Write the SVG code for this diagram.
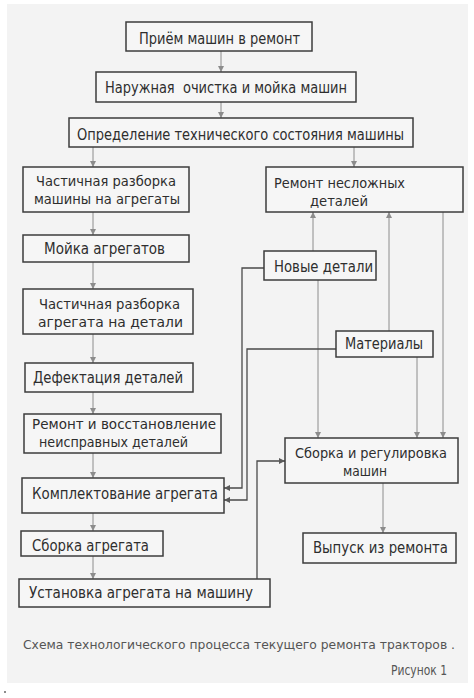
<svg xmlns="http://www.w3.org/2000/svg" width="474" height="698" viewBox="0 0 474 698">
<style>
.box{fill:#f6f6f6;stroke:#3c3c3c;stroke-width:1.5}
.t{font-family:"DejaVu Sans Condensed","Liberation Sans",sans-serif;font-size:16px;fill:#2e2e2e}
.t2{font-family:"DejaVu Sans Condensed","Liberation Sans",sans-serif;font-size:14px;fill:#2e2e2e}
.c{fill:none;stroke:#8c8c8c;stroke-width:1}
.d{fill:none;stroke:#4a4a4a;stroke-width:1.3}
.cap{font-family:"DejaVu Sans Condensed","Liberation Sans",sans-serif;font-size:13px;fill:#555}
</style>
<defs>
<marker id="a" viewBox="0 0 6 8" refX="6" refY="4" markerWidth="6" markerHeight="8" markerUnits="userSpaceOnUse" orient="auto">
<path d="M0,1 L6,4 L0,7 Z" fill="#8c8c8c"/>
</marker>
<marker id="ad" viewBox="0 0 6 8" refX="6" refY="4" markerWidth="6" markerHeight="8" markerUnits="userSpaceOnUse" orient="auto">
<path d="M0,1 L6,4 L0,7 Z" fill="#5a5a5a"/>
</marker>
</defs>
<rect x="0" y="0" width="474" height="698" fill="#ffffff"/>
<rect x="7" y="4" width="461" height="679" fill="#f3f3f3"/>
<circle cx="5" cy="692" r="1" fill="#666"/>

<g id="connectors">
<path class="c" d="M221,51 V72" marker-end="url(#a)"/>
<path class="c" d="M221,102 V118" marker-end="url(#a)"/>
<path class="c" d="M93,147 V167" marker-end="url(#a)"/>
<path class="c" d="M354,147 V167" marker-end="url(#a)"/>
<path class="c" d="M93,212 V235" marker-end="url(#a)"/>
<path class="c" d="M93,262 V289" marker-end="url(#a)"/>
<path class="c" d="M93,334 V363" marker-end="url(#a)"/>
<path class="c" d="M93,392 V414" marker-end="url(#a)"/>
<path class="c" d="M93,453 V478" marker-end="url(#a)"/>
<path class="c" d="M93,513 V531" marker-end="url(#a)"/>
<path class="c" d="M93,556 V579" marker-end="url(#a)"/>
<path class="c" d="M313,251 V212" marker-end="url(#a)"/>
<path class="c" d="M389,331 V212" marker-end="url(#a)"/>
<path class="c" d="M443,212 V438" marker-end="url(#a)"/>
<path class="c" d="M318,280 V438" marker-end="url(#a)"/>
<path class="c" d="M417,357 V438" marker-end="url(#a)"/>
<path class="d" d="M264,268 H242 V488 H224" marker-end="url(#ad)"/>
<path class="d" d="M336,349 H247 V500 H224" marker-end="url(#ad)"/>
<path class="d" d="M257,579 V461 H285" marker-end="url(#ad)"/>
<path class="c" d="M383,483 V533" marker-end="url(#a)"/>
</g>

<g id="n1"><rect class="box" x="126" y="22" width="186" height="29"/>
<text class="t" x="139" y="44" textLength="161" lengthAdjust="spacingAndGlyphs">Приём машин в ремонт</text></g>

<g id="n2"><rect class="box" x="96" y="72" width="260" height="30"/>
<text class="t" x="105" y="93" textLength="242" lengthAdjust="spacingAndGlyphs" xml:space="preserve">Наружная  очистка и мойка машин</text></g>

<g id="n3"><rect class="box" x="69" y="118" width="344" height="29"/>
<text class="t" x="77" y="140" textLength="327" lengthAdjust="spacingAndGlyphs">Определение технического состояния машины</text></g>

<g id="n4"><rect class="box" x="23" y="167" width="166" height="45"/>
<text class="t2" x="36" y="186" textLength="140" lengthAdjust="spacingAndGlyphs">Частичная разборка</text>
<text class="t2" x="34" y="204" textLength="146" lengthAdjust="spacingAndGlyphs">машины на агрегаты</text></g>

<g id="n5"><rect class="box" x="266" y="167" width="197" height="45"/>
<text class="t2" x="274" y="188" textLength="131" lengthAdjust="spacingAndGlyphs">Ремонт несложных</text>
<text class="t2" x="310" y="206" textLength="58" lengthAdjust="spacingAndGlyphs">деталей</text></g>

<g id="n6"><rect class="box" x="23" y="235" width="166" height="27"/>
<text class="t" x="44" y="254" textLength="121" lengthAdjust="spacingAndGlyphs">Мойка агрегатов</text></g>

<g id="n7"><rect class="box" x="264" y="251" width="112" height="29"/>
<text class="t" x="274" y="272" textLength="99" lengthAdjust="spacingAndGlyphs">Новые детали</text></g>

<g id="n8"><rect class="box" x="23" y="289" width="170" height="45"/>
<text class="t2" x="39" y="309" textLength="141" lengthAdjust="spacingAndGlyphs">Частичная разборка</text>
<text class="t2" x="38" y="327" textLength="145" lengthAdjust="spacingAndGlyphs">агрегата на детали</text></g>

<g id="n9"><rect class="box" x="336" y="331" width="97" height="26"/>
<text class="t" x="345" y="349" textLength="78" lengthAdjust="spacingAndGlyphs">Материалы</text></g>

<g id="n10"><rect class="box" x="25" y="363" width="168" height="29"/>
<text class="t" x="33" y="383" textLength="150" lengthAdjust="spacingAndGlyphs">Дефектация деталей</text></g>

<g id="n11"><rect class="box" x="24" y="414" width="197" height="39"/>
<text class="t2" x="32" y="429" textLength="184" lengthAdjust="spacingAndGlyphs">Ремонт и восстановление</text>
<text class="t2" x="39" y="447" textLength="149" lengthAdjust="spacingAndGlyphs">неисправных деталей</text></g>

<g id="n12"><rect class="box" x="285" y="438" width="173" height="45"/>
<text class="t2" x="295" y="458" textLength="152" lengthAdjust="spacingAndGlyphs">Сборка и регулировка</text>
<text class="t2" x="343" y="476" textLength="44" lengthAdjust="spacingAndGlyphs">машин</text></g>

<g id="n13"><rect class="box" x="22" y="478" width="202" height="35"/>
<text class="t" x="32" y="499" textLength="186" lengthAdjust="spacingAndGlyphs">Комплектование агрегата</text></g>

<g id="n14"><rect class="box" x="21" y="531" width="142" height="25"/>
<text class="t" x="32" y="551" textLength="117" lengthAdjust="spacingAndGlyphs">Сборка агрегата</text></g>

<g id="n15"><rect class="box" x="303" y="533" width="153" height="30"/>
<text class="t" x="313" y="553" textLength="135" lengthAdjust="spacingAndGlyphs">Выпуск из ремонта</text></g>

<g id="n16"><rect class="box" x="19" y="579" width="251" height="28"/>
<text class="t" x="29" y="598" textLength="224" lengthAdjust="spacingAndGlyphs">Установка агрегата на машину</text></g>

<text class="cap" x="23" y="649" textLength="432" lengthAdjust="spacingAndGlyphs">Схема технологического процесса текущего ремонта тракторов .</text>
<text class="cap" x="391" y="675" style="font-size:14px" textLength="56" lengthAdjust="spacingAndGlyphs">Рисунок 1</text>
</svg>
